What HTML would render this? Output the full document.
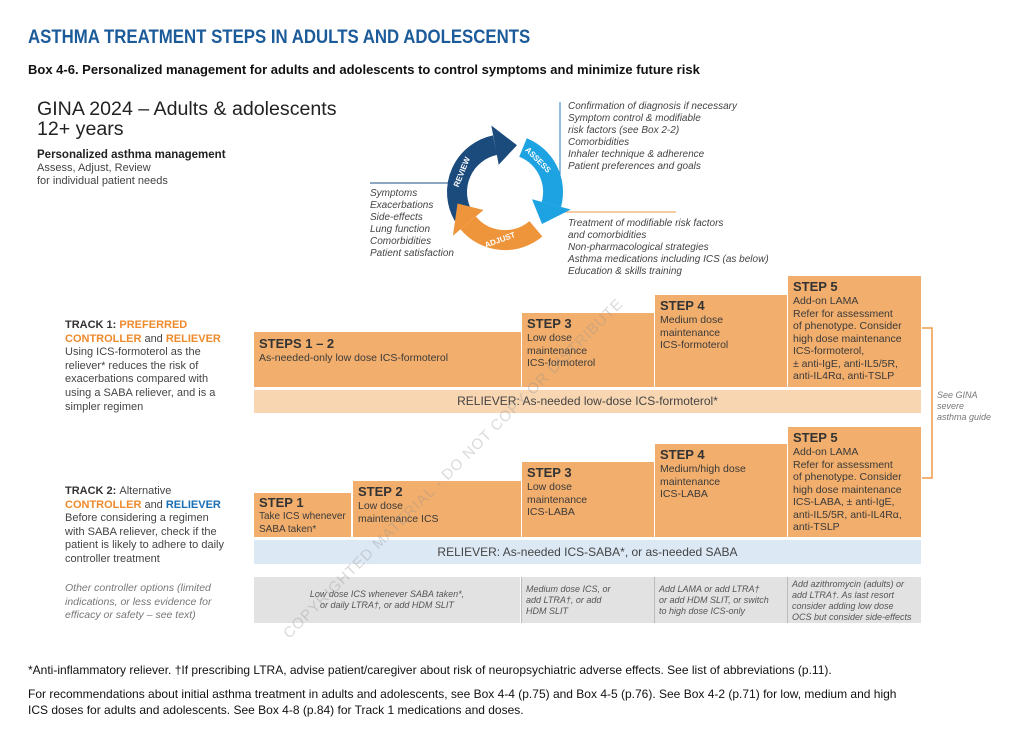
<!DOCTYPE html>
<html><head><meta charset="utf-8">
<style>
body{margin:0;width:1024px;height:739px;background:#fff;position:relative;overflow:hidden;font-family:"Liberation Sans",Arial,sans-serif;color:#333}
.a{position:absolute;white-space:nowrap}
.box{position:absolute;background:#f2ae6c;box-sizing:border-box;padding:3px 5px;font-size:10.5px;line-height:12.5px;color:#3a3a3a;white-space:nowrap;overflow:hidden}
.box b{display:block;font-size:13px;line-height:15px;color:#333;margin-bottom:1px}
.it{font-style:italic;font-size:10px;line-height:12px;color:#444}
.oth{position:absolute;top:577px;height:46px;font-style:italic;font-size:9px;line-height:11px;color:#555;box-sizing:border-box;padding:2px 4px;white-space:nowrap}
.or{color:#ef8a2c;font-weight:bold}
.bl{color:#1a6fb5;font-weight:bold}
</style></head><body>
<div class="a" style="left:28px;top:27px;font-size:19px;font-weight:bold;color:#1c5b99;transform:scaleX(0.885);transform-origin:left top">ASTHMA TREATMENT STEPS IN ADULTS AND ADOLESCENTS</div>
<div class="a" style="left:28px;top:62px;font-size:13px;font-weight:bold;color:#111">Box 4-6. Personalized management for adults and adolescents to control symptoms and minimize future risk</div>

<div class="a" style="left:37px;top:99px;font-size:19.6px;line-height:20px;color:#222">GINA 2024 – Adults &amp; adolescents<br>12+ years</div>
<div class="a" style="left:37px;top:149px;font-size:11px;line-height:13px;color:#444"><b style="color:#222;font-size:11.5px">Personalized asthma management</b><br>Assess, Adjust, Review<br>for individual patient needs</div>

<svg class="a" style="left:0;top:0" width="1024" height="739">
<line x1="560" y1="102" x2="560" y2="178" stroke="#2a7fc0" stroke-width="1"/>
<line x1="370" y1="183" x2="455" y2="183" stroke="#1c4e80" stroke-width="1"/>
<line x1="565" y1="212" x2="676" y2="212" stroke="#ef9a4a" stroke-width="1"/>
<path d="M463.4,216 A48,48 0 0 1 495,145.1" fill="none" stroke="#1b4b7c" stroke-width="20"/>
<polygon points="491.3,125.5 498.7,164.7 517,145.2" fill="#1b4b7c"/>
<path d="M523,147.5 A48,48 0 0 1 551.4,204.4" fill="none" stroke="#1ea3e2" stroke-width="20"/>
<polygon points="570.8,209.5 532,199.2 542,224" fill="#1ea3e2"/>
<path d="M535.9,228.8 A48,48 0 0 1 468.2,222.9" fill="none" stroke="#ee943a" stroke-width="20"/>
<polygon points="452.9,235.8 483.5,210 457.5,203.5" fill="#ee943a"/>
<g font-size="8" font-weight="bold" font-family="Liberation Sans" fill="#fff" text-anchor="middle" dominant-baseline="central">
<text transform="translate(462,172) rotate(-68)">REVIEW</text>
<text transform="translate(538,160) rotate(45)">ASSESS</text>
<text transform="translate(500,240) rotate(-20)">ADJUST</text>
</g>
<polyline points="922,328 932,328 932,478 922,478" fill="none" stroke="#ef9a4a" stroke-width="1.5"/>
</svg>

<div class="a it" style="left:568px;top:101px">Confirmation of diagnosis if necessary<br>Symptom control &amp; modifiable<br>risk factors (see Box 2-2)<br>Comorbidities<br>Inhaler technique &amp; adherence<br>Patient preferences and goals</div>
<div class="a it" style="left:370px;top:188px">Symptoms<br>Exacerbations<br>Side-effects<br>Lung function<br>Comorbidities<br>Patient satisfaction</div>
<div class="a it" style="left:568px;top:218px">Treatment of modifiable risk factors<br>and comorbidities<br>Non-pharmacological strategies<br>Asthma medications including ICS (as below)<br>Education &amp; skills training</div>

<div class="a" style="left:65px;top:319px;font-size:11px;line-height:13.6px;color:#444"><b style="color:#333">TRACK 1: </b><span class="or">PREFERRED<br>CONTROLLER</span> and <span class="or">RELIEVER</span><br>Using ICS-formoterol as the<br>reliever* reduces the risk of<br>exacerbations compared with<br>using a SABA reliever, and is a<br>simpler regimen</div>
<div class="a" style="left:65px;top:485px;font-size:11px;line-height:13.6px;color:#444"><b style="color:#333">TRACK 2: </b>Alternative<br><span class="or">CONTROLLER</span> and <span class="bl">RELIEVER</span><br>Before considering a regimen<br>with SABA reliever, check if the<br>patient is likely to adhere to daily<br>controller treatment</div>
<div class="a" style="left:65px;top:582px;font-size:10.5px;line-height:13.6px;color:#777;font-style:italic">Other controller options (limited<br>indications, or less evidence for<br>efficacy or safety – see text)</div>

<div class="box" style="left:254px;top:332px;width:267px;height:55px;padding-top:4px"><b>STEPS 1 – 2</b>As-needed-only low dose ICS-formoterol</div>
<div class="box" style="left:522px;top:313px;width:132px;height:74px"><b>STEP 3</b>Low dose<br>maintenance<br>ICS-formoterol</div>
<div class="box" style="left:655px;top:295px;width:132px;height:92px"><b>STEP 4</b>Medium dose<br>maintenance<br>ICS-formoterol</div>
<div class="box" style="left:788px;top:276px;width:133px;height:111px"><b>STEP 5</b>Add-on LAMA<br>Refer for assessment<br>of phenotype. Consider<br>high dose maintenance<br>ICS-formoterol,<br>± anti-IgE, anti-IL5/5R,<br>anti-IL4Rα, anti-TSLP</div>
<div class="a" style="left:254px;top:390px;width:667px;height:23px;background:#f8d6b2;text-align:center;line-height:23px;font-size:12px;color:#444">RELIEVER: As-needed low-dose ICS-formoterol*</div>

<div class="box" style="left:254px;top:493px;width:97px;height:44px;padding-top:2px;font-size:10px"><b>STEP 1</b>Take ICS whenever<br>SABA taken*</div>
<div class="box" style="left:353px;top:481px;width:168px;height:56px"><b>STEP 2</b>Low dose<br>maintenance ICS</div>
<div class="box" style="left:522px;top:462px;width:132px;height:75px"><b>STEP 3</b>Low dose<br>maintenance<br>ICS-LABA</div>
<div class="box" style="left:655px;top:444px;width:132px;height:93px"><b>STEP 4</b>Medium/high dose<br>maintenance<br>ICS-LABA</div>
<div class="box" style="left:788px;top:427px;width:133px;height:110px"><b>STEP 5</b>Add-on LAMA<br>Refer for assessment<br>of phenotype. Consider<br>high dose maintenance<br>ICS-LABA, ± anti-IgE,<br>anti-IL5/5R, anti-IL4Rα,<br>anti-TSLP</div>
<div class="a" style="left:254px;top:540px;width:667px;height:24px;background:#dce8f4;text-align:center;line-height:24px;font-size:12px;color:#444">RELIEVER: As-needed ICS-SABA*, or as-needed SABA</div>

<div class="oth" style="left:254px;width:266px;background:#e2e2e2;text-align:center;padding-top:12px">Low dose ICS whenever SABA taken*,<br>or daily LTRA†, or add HDM SLIT</div>
<div class="oth" style="left:521px;width:133px;background:#e2e2e2;border-left:1px solid #bbb;padding-top:7px">Medium dose ICS, or<br>add LTRA†, or add<br>HDM SLIT</div>
<div class="oth" style="left:654px;width:133px;background:#e2e2e2;border-left:1px solid #bbb;padding-top:7px">Add LAMA or add LTRA†<br>or add HDM SLIT, or switch<br>to high dose ICS-only</div>
<div class="oth" style="left:787px;width:134px;background:#e2e2e2;border-left:1px solid #bbb">Add azithromycin (adults) or<br>add LTRA†. As last resort<br>consider adding low dose<br>OCS but consider side-effects</div>

<div class="a" style="left:937px;top:390px;font-size:9px;line-height:11px;color:#777;font-style:italic">See GINA<br>severe<br>asthma guide</div>

<div class="a" style="left:280px;top:630px;font-size:15px;color:rgba(150,150,150,0.35);transform:rotate(-45deg);transform-origin:left top;letter-spacing:1px">COPYRIGHTED MATERIAL - DO NOT COPY OR DISTRIBUTE</div>

<div class="a" style="left:28px;top:663px;font-size:12px;color:#111">*Anti-inflammatory reliever. †If prescribing LTRA, advise patient/caregiver about risk of neuropsychiatric adverse effects. See list of abbreviations (p.11).</div>
<div class="a" style="left:28px;top:686px;font-size:12px;line-height:16px;color:#111">For recommendations about initial asthma treatment in adults and adolescents, see Box 4-4 (p.75) and Box 4-5 (p.76). See Box 4-2 (p.71) for low, medium and high<br>ICS doses for adults and adolescents. See Box 4-8 (p.84) for Track 1 medications and doses.</div>
</body></html>
